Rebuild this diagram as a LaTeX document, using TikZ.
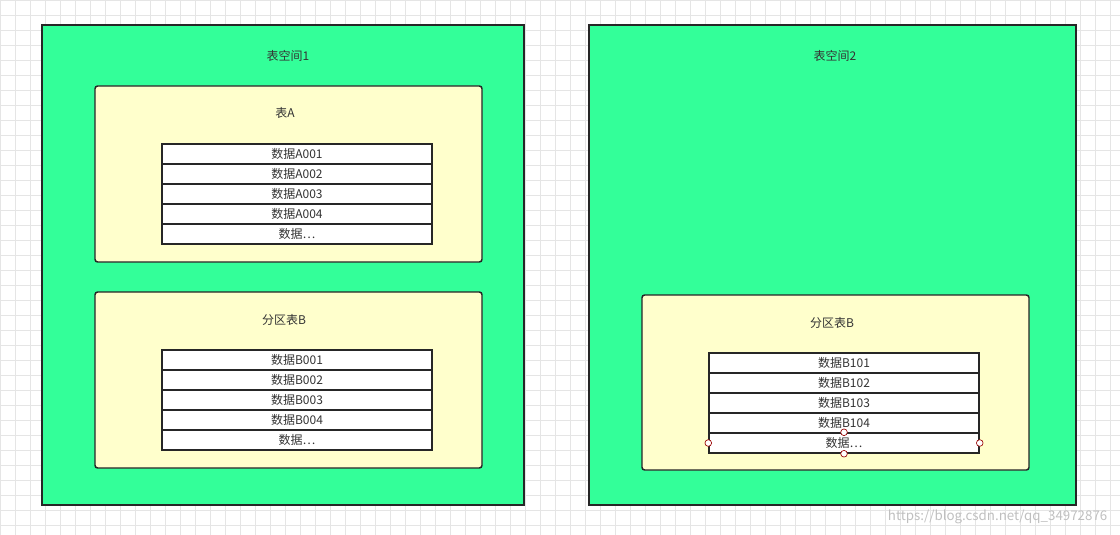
\documentclass[tikz,border=0pt]{standalone}
\usepackage{fontspec}
\setmainfont{Noto Sans CJK SC}
\begin{document}
\begin{tikzpicture}[x=0.75pt,y=-0.75pt,
 space/.style={draw=black!85,line width=1.2pt,fill=green1},
 tbl/.style={draw=black!85,line width=1.1pt,fill=yellow1,rounded corners=2pt},
 rowbox/.style={draw=black!85,line width=1.1pt,fill=white,minimum width=202.5pt,minimum height=15pt,inner sep=0pt,font=\fontsize{9}{10}\selectfont,text=black!80},
 lbl/.style={font=\fontsize{9}{10}\selectfont,text=black!80},
 handle/.style={circle,draw=red!60!black,fill=white,inner sep=0pt,minimum size=5pt,line width=0.5pt}]
\definecolor{green1}{HTML}{33FF99}
\definecolor{yellow1}{HTML}{FFFFCC}
\useasboundingbox (0,0) rectangle (1120,535);
\draw[black!10,step=11.25pt] (0,0) grid (1120,535);
\draw[space] (42,25) rectangle (524,505);
\draw[space] (589,25) rectangle (1076,505);
\node[lbl] (s1) at (288,56) {表空间1};
\node[lbl] (s2) at (835,56) {表空间2};
\draw[tbl] (95,86) rectangle (482,262);
\draw[tbl] (95,292) rectangle (482,468);
\draw[tbl] (642,295) rectangle (1029,470);
\node[lbl] (ta) at (285,113) {表A};
\node[lbl] (tb1) at (284,320) {分区表B};
\node[lbl] (tb2) at (832,323) {分区表B};
\foreach \t [count=\i] in {数据A001,数据A002,数据A003,数据A004,{数据\ldots}}
  \node[rowbox] (a\i) at (297,134+\i*20) {\t};
\foreach \t [count=\i] in {数据B001,数据B002,数据B003,数据B004,{数据\ldots}}
  \node[rowbox] (b\i) at (297,340+\i*20) {\t};
\foreach \t [count=\i] in {数据B101,数据B102,数据B103,数据B104,{数据\ldots}}
  \node[rowbox] (c\i) at (844,343+\i*20) {\t};
\node[handle] at (c5.west) {};
\node[handle] at (c5.east) {};
\node[handle] at (c5.north) {};
\node[handle] at (c5.south) {};
\node[font=\fontsize{10}{12}\selectfont,text=black!25,anchor=east] (wm) at (1112,517) {https://blog.csdn.net/qq\_34972876};
\end{tikzpicture}
\end{document}
